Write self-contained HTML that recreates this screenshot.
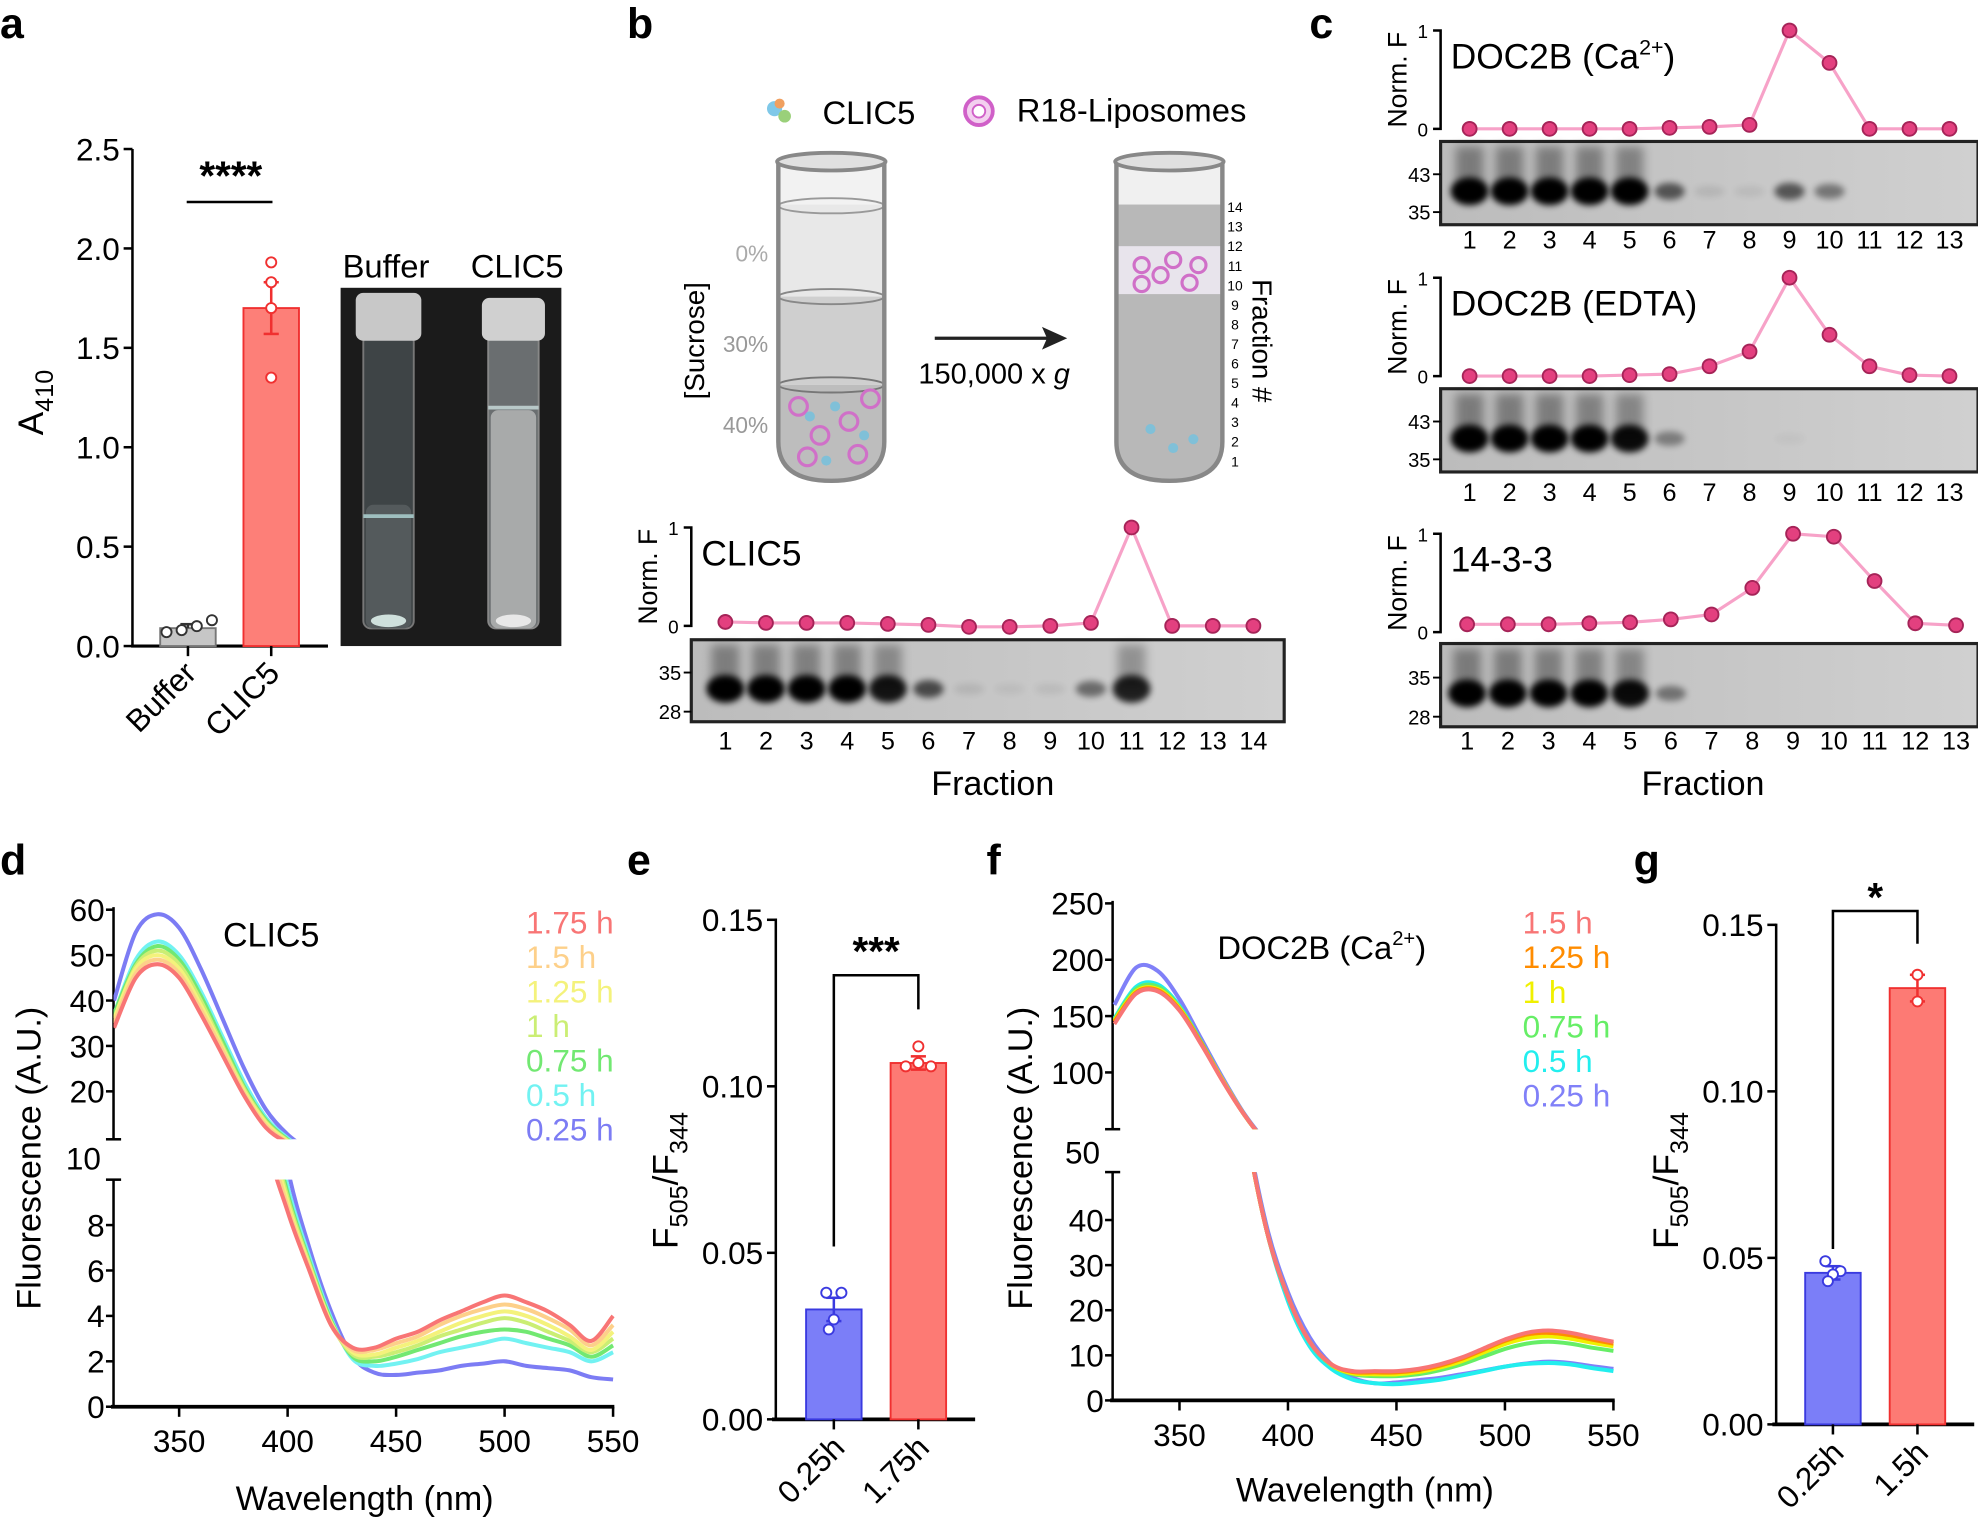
<!DOCTYPE html>
<html><head><meta charset="utf-8">
<style>
html,body{margin:0;padding:0;background:#fff;}
svg{display:block;font-family:"Liberation Sans",Arial,sans-serif;}
</style></head>
<body>
<svg id="fig" xmlns="http://www.w3.org/2000/svg" width="1978" height="1528" viewBox="0 0 1568 1211">
<defs>
<filter id="blur" x="-50%" y="-50%" width="200%" height="200%"><feGaussianBlur stdDeviation="2.5"/></filter>
<filter id="blur2" x="-50%" y="-50%" width="200%" height="200%"><feGaussianBlur stdDeviation="4"/></filter>
<clipPath id="dTop"><rect x="90" y="712" width="400" height="191"/></clipPath>
<clipPath id="dBot"><rect x="90" y="935" width="400" height="182"/></clipPath>
<clipPath id="fTop"><rect x="882" y="705" width="400" height="190"/></clipPath>
<clipPath id="fBot"><rect x="882" y="929" width="400" height="183"/></clipPath>
<clipPath id="tubeL"><path d="M617,128 L617,350 Q617,381 659,381 Q701,381 701,350 L701,128 Z"/></clipPath>
<clipPath id="tubeR"><path d="M885,128 L885,350 Q885,381 927,381 Q969,381 969,350 L969,128 Z"/></clipPath>
<linearGradient id="gelg" x1="0" y1="0" x2="1" y2="0"><stop offset="0" stop-color="#bcbcbc"/><stop offset="1" stop-color="#d0d0d0"/></linearGradient>
</defs>

<!-- panel letters -->
<g font-weight="bold" font-size="34">
<text x="0" y="30">a</text><text x="497" y="30">b</text><text x="1038" y="30">c</text>
<text x="0" y="693">d</text><text x="497" y="693">e</text><text x="782" y="693">f</text><text x="1295" y="693">g</text>
</g>

<g id="panelA"></g>
<g id="panelB"></g>
<g id="panelC"></g>
<g id="panelD"></g>
<g id="panelE"></g>
<g id="panelF"></g>
<g id="panelG"></g>
</svg>

<script>
// ---------- DATA ----------
const aCategories = ["Buffer","CLIC5"];
const aMeans = [0.09, 1.70];
const aErrors = [0.02, 0.13];
const aPointsBuffer = [0.07, 0.08, 0.10, 0.13];
const aPointsClic5 = [1.93, 1.83, 1.70, 1.35];
const aTicks = [0.0,0.5,1.0,1.5,2.0,2.5];

const bFractions = [1,2,3,4,5,6,7,8,9,10,11,12,13,14];
const bNormF = [0.04,0.03,0.03,0.03,0.02,0.01,-0.01,-0.01,0.0,0.03,1.0,0.0,0.0,0.0];
const bGelBands = [0.95,0.95,0.95,0.95,0.85,0.6,0.08,0.05,0.06,0.45,0.8,0,0,0];

const cFractions = [1,2,3,4,5,6,7,8,9,10,11,12,13];
const cNormCa = [0,0,0,0,0,0.01,0.02,0.04,1.0,0.67,0,0,0];
const cNormEdta = [0,0,0,0,0.01,0.02,0.1,0.25,1.0,0.42,0.1,0.01,0];
const cNorm1433 = [0.08,0.08,0.08,0.09,0.1,0.13,0.18,0.45,1.0,0.97,0.52,0.09,0.07];
const cGelCa = [1,1,1,1,0.95,0.55,0.08,0.06,0.55,0.4,0,0,0];
const cGelEdta = [1,1,1,0.95,0.9,0.35,0,0,0.03,0,0,0,0];
const cGel1433 = [1,1,0.98,0.95,0.9,0.4,0,0,0,0,0,0,0];

const wavelengths = [320,330,340,350,360,370,380,390,400,410,420,430,440,450,460,470,480,490,500,510,520,530,540,550];
const dLabels = ["1.75 h","1.5 h","1.25 h","1 h","0.75 h","0.5 h","0.25 h"];
const d175 = [34,45,48,45,37,28,19,12,8.6,6,3.6,2.6,2.6,3.0,3.3,3.8,4.2,4.6,4.9,4.6,4.2,3.6,2.9,4.0];
const d150 = [35,46,49,46,38,29,19.5,12.5,8.8,6.1,3.6,2.5,2.5,2.8,3.1,3.6,4.0,4.3,4.5,4.3,3.9,3.4,2.7,3.6];
const d125 = [36,47,50,47,39,29.5,20,13,9,6.2,3.7,2.4,2.3,2.6,2.9,3.3,3.7,4.0,4.2,4.0,3.6,3.1,2.5,3.3];
const d100 = [36,47.5,51,48,40,30,20.5,13.3,9.2,6.3,3.7,2.3,2.2,2.4,2.7,3.1,3.4,3.7,3.9,3.7,3.3,2.9,2.4,3.0];
const d075 = [37,48,52,49,41,31,21,13.7,9.4,6.4,3.8,2.2,2.0,2.2,2.5,2.8,3.1,3.3,3.4,3.3,3.0,2.7,2.2,2.7];
const d050 = [37,49,53,50,42,32,22,14.2,9.7,6.6,3.9,2.1,1.8,1.9,2.1,2.4,2.6,2.8,3.0,2.8,2.6,2.4,2.0,2.4];
const d025 = [40,55,59,56,47,36,25,16,10.5,7,4.2,2.2,1.5,1.4,1.5,1.6,1.8,1.9,2.0,1.8,1.7,1.6,1.3,1.2];
const dSeries = [d175,d150,d125,d100,d075,d050,d025];
const dColors = ["#f87575","#fdd08a","#f4f27c","#cbee74","#72e872","#72f2f2","#7c7cf4"];
const dTopTicks = [20,30,40,50,60];
const dBotTicks = [0,2,4,6,8];
const xTicks = [350,400,450,500,550];

const eCategories = ["0.25h","1.75h"];
const eMeans = [0.033, 0.107];
const eErrors = [0.0035, 0.002];
const ePoints025 = [0.038,0.038,0.030,0.027];
const ePoints175 = [0.112,0.106,0.106,0.107];
const ratioTicks = [0.00,0.05,0.10,0.15];

const fLabels = ["1.5 h","1.25 h","1 h","0.75 h","0.5 h","0.25 h"];
const f150 = [143,170,172,155,125,92,62,38,23,13,8,6.5,6.5,6.5,7,8,9.5,11.5,13.5,15,15.5,15,14,13];
const f125 = [145,171,173,156,126,92,62,38,23,13,8,6.3,6.2,6.2,6.7,7.7,9.2,11.2,13.2,14.6,15,14.5,13.5,12.6];
const f100 = [146,172,174,157,126,93,62,38,23,13,7.9,6,5.8,5.8,6.3,7.3,8.7,10.6,12.5,13.8,14.2,13.7,12.8,12];
const f075 = [147,174,176,158,127,93,62,38,23,13,7.8,5.8,5.4,5.4,5.8,6.7,8,9.7,11.4,12.6,13,12.6,11.7,11];
const f050 = [148,176,178,159,127,93,62,38,22,12,7,4.6,3.8,3.6,4,4.6,5.5,6.5,7.5,8.1,8.3,8,7.2,6.5];
const f025 = [160,193,190,165,130,95,63,39,24,14,8,5,3.8,4,4.5,5,5.8,6.6,7.5,8.2,8.6,8.3,7.6,7];
const fSeries = [f150,f125,f100,f075,f050,f025];
const fColors = ["#f87575","#ff8c00","#f0f000","#66ee66","#22eeee","#8080f8"];
const fTopTicks = [100,150,200,250];
const fBotTicks = [0,10,20,30,40];

const gCategories = ["0.25h","1.5h"];
const gMeans = [0.0455, 0.131];
const gErrors = [0.002, 0.004];
const gPoints025 = [0.049,0.046,0.045,0.043];
const gPoints150 = [0.135,0.127];

// ---------- HELPERS ----------
const NS = "http://www.w3.org/2000/svg";
function el(tag, attrs, parent){
  const e = document.createElementNS(NS, tag);
  for (const k in attrs) e.setAttribute(k, attrs[k]);
  if (parent) parent.appendChild(e);
  return e;
}
function txt(parent, x, y, s, attrs){
  const t = el('text', Object.assign({x:x, y:y}, attrs||{}), parent);
  t.textContent = s;
  return t;
}
function lin(d0,d1,r0,r1){ return v => r0 + (v-d0)*(r1-r0)/(d1-d0); }
function smoothPath(pts){
  let d = "M" + pts[0][0].toFixed(1) + "," + pts[0][1].toFixed(1);
  for (let i=0;i<pts.length-1;i++){
    const p0 = pts[i-1]||pts[i], p1=pts[i], p2=pts[i+1], p3=pts[i+2]||p2;
    const c1x = p1[0]+(p2[0]-p0[0])/6, c1y=p1[1]+(p2[1]-p0[1])/6;
    const c2x = p2[0]-(p3[0]-p1[0])/6, c2y=p2[1]-(p3[1]-p1[1])/6;
    d += " C"+c1x.toFixed(1)+","+c1y.toFixed(1)+" "+c2x.toFixed(1)+","+c2y.toFixed(1)+" "+p2[0].toFixed(1)+","+p2[1].toFixed(1);
  }
  return d;
}

// ---------- PANEL A ----------
(function(){
  const g = document.getElementById('panelA');
  const y = lin(0,2.5,512,118);
  const yAxis = el('line',{x1:105,y1:118,x2:105,y2:513,stroke:'#000','stroke-width':2},g);
  
  
  aTicks.forEach(t=>{
    el('line',{x1:98,y1:y(t),x2:105,y2:y(t),stroke:'#000','stroke-width':2},g);
    const lb = txt(g,95,y(t)+9,t.toFixed(1),{'font-size':25,'text-anchor':'end'});
    
    
  });
  const xAxis = el('line',{x1:104,y1:512,x2:260,y2:512,stroke:'#000','stroke-width':2.5},g);
  
  
  const yt = txt(g,0,0,'A',{'font-size':28,transform:'translate(34,345) rotate(-90)'});
  
  
  const sub = el('tspan',{'font-size':20,dy:8},yt); sub.textContent='410';
  const xs = [149,215], fills=['#c6c6c6','#fd7f78'], strokes=['#777','#f03030'];
  aMeans.forEach((m,i)=>{
    const bar = el('rect',{x:xs[i]-22,y:y(m),width:44,height:512-y(m),fill:fills[i],stroke:strokes[i],'stroke-width':1.5},g);
    
    
    el('line',{x1:xs[i],y1:y(m),x2:xs[i],y2:y(m+aErrors[i]),stroke:i?'#f03030':'#333','stroke-width':2},g);
    el('line',{x1:xs[i]-6,y1:y(m+aErrors[i]),x2:xs[i]+6,y2:y(m+aErrors[i]),stroke:i?'#f03030':'#333','stroke-width':2},g);
    if(i){ el('line',{x1:xs[i],y1:y(m),x2:xs[i],y2:y(m-aErrors[i]),stroke:'#f03030','stroke-width':2},g);
      el('line',{x1:xs[i]-6,y1:y(m-aErrors[i]),x2:xs[i]+6,y2:y(m-aErrors[i]),stroke:'#f03030','stroke-width':2},g);}
    el('line',{x1:xs[i],y1:512,x2:xs[i],y2:520,stroke:'#000','stroke-width':2},g);
    const xl = txt(g,0,0,aCategories[i],{'font-size':25,'text-anchor':'end',transform:'translate('+(xs[i]+8)+',535) rotate(-45)'});
    
    
  });
  const offB=[-17,-5,7,19];
  aPointsBuffer.forEach((v,i)=>{
    const c = el('circle',{cx:xs[0]+offB[i],cy:y(v),r:4,fill:'#fff',stroke:'#333','stroke-width':1.5},g);
    
    
  });
  aPointsClic5.forEach((v,i)=>{
    const c = el('circle',{cx:xs[1],cy:y(v),r:4,fill:'#fff',stroke:'#f03030','stroke-width':1.5},g);
    
    
  });
  const sig = el('line',{x1:148,y1:160,x2:216,y2:160,stroke:'#000','stroke-width':2},g);
  
  
  const st = txt(g,183,150,'****',{'font-size':32,'font-weight':'bold','text-anchor':'middle'});
  
  
  // photo
  const ph = el('g',{},g);
  
  
  el('rect',{x:270,y:228,width:175,height:284,fill:'#1b1b1b'},ph);
  el('rect',{x:288,y:265,width:40,height:233,rx:6,fill:'#3e4446',stroke:'#777','stroke-width':1.5},ph);
  el('rect',{x:290,y:400,width:36,height:98,rx:6,fill:'#545a5c'},ph);
  el('rect',{x:282,y:232,width:52,height:38,rx:6,fill:'#c8c8c8'},ph);
  el('line',{x1:288,y1:409,x2:328,y2:409,stroke:'#9fbfbf','stroke-width':3},ph);
  el('rect',{x:387,y:265,width:40,height:233,rx:6,fill:'#6a6e70',stroke:'#888','stroke-width':1.5},ph);
  el('rect',{x:389,y:325,width:36,height:173,rx:6,fill:'#a8aaaa'},ph);
  el('rect',{x:382,y:236,width:50,height:34,rx:6,fill:'#d0d0d0'},ph);
  el('line',{x1:387,y1:323,x2:427,y2:323,stroke:'#b8c8c8','stroke-width':3},ph);
  el('ellipse',{cx:308,cy:492,rx:14,ry:5,fill:'#cfe0dc'},ph);
  el('ellipse',{cx:407,cy:492,rx:14,ry:5,fill:'#e8e8e8'},ph);
  txt(g,306,220,'Buffer',{'font-size':26,'text-anchor':'middle'});
  txt(g,410,220,'CLIC5',{'font-size':26,'text-anchor':'middle'});
})();

// ---------- mini norm-F plot + gel ----------
function miniPlot(g, prefix, ax, y1, y0, xs0, dx, vals, fracs, title, gelY, gelH, gelX1, gelBands, mwLabels, mwYs, fracY){
  const y = lin(0,1,y0,y1);
  const axis = el('path',{d:'M'+(ax-6)+','+y1+' H'+ax+' V'+y0+' H'+(ax-6),fill:'none',stroke:'#000','stroke-width':2},g);
  
  
  txt(g,ax-10,y1+6,'1',{'font-size':15,'text-anchor':'end'});
  txt(g,ax-10,y0+6,'0',{'font-size':15,'text-anchor':'end'});
  const yt = txt(g,0,0,'Norm. F',{'font-size':21,'text-anchor':'middle',transform:'translate('+(ax-27)+','+((y0+y1)/2)+') rotate(-90)'});
  
  
  const tl = txt(g,ax+8,y1+30,'',{'font-size':28});
  
  
  if (title.indexOf('Ca')>=0){ tl.textContent='DOC2B (Ca'; const s=el('tspan',{'font-size':17,dy:-11},tl); s.textContent='2+'; const s2=el('tspan',{dy:11},tl); s2.textContent=')'; }
  else tl.textContent=title;
  const pts = vals.map((v,i)=>[xs0+i*dx, y(v)]);
  const ln = el('polyline',{points:pts.map(p=>p.join(',')).join(' '),fill:'none',stroke:'#f7a2c8','stroke-width':2.5},g);
  
  
  pts.forEach(p=>{
    const c = el('circle',{cx:p[0],cy:p[1],r:5.5,fill:'#e3407f',stroke:'#a52458','stroke-width':1.5},g);
    
    
  });
  // gel
  const gel = el('g',{},g);
  
  
  el('rect',{x:ax,y:gelY,width:gelX1-ax,height:gelH,fill:'url(#gelg)',stroke:'#222','stroke-width':2.5},gel);
  const by = gelY + gelH*0.6;
  gelBands.forEach((v,i)=>{
    if(v<=0) return;
    const cx = xs0+i*dx;
    if(v>0.7) el('rect',{x:cx-11,y:gelY+4,width:22,height:by-gelY-4,fill:'#000',opacity:v*0.35,filter:'url(#blur2)'},gel);
    const b = el('ellipse',{cx:cx,cy:by,rx:v>0.7?15:12,ry:v>0.7?11:4+v*5,fill:'#000',opacity:Math.min(1,v*1.05),filter:'url(#blur)'},gel);
    
    
  });
  mwLabels.forEach((m,i)=>{
    el('line',{x1:ax-6,y1:mwYs[i],x2:ax,y2:mwYs[i],stroke:'#000','stroke-width':1.5},g);
    txt(g,ax-8,mwYs[i]+6,m,{'font-size':16,'text-anchor':'end'});
  });
  fracs.forEach((f,i)=>{
    const t = txt(g,xs0+i*dx,fracY,String(f),{'font-size':20,'text-anchor':'middle'});
    
    
  });
}

// ---------- PANEL B ----------
(function(){
  const g = document.getElementById('panelB');
  // legend
  const lg = el('g',{},g);
  
  
  el('circle',{cx:614,cy:86,r:6,fill:'#7fc8e8'},lg); el('circle',{cx:622,cy:92,r:5,fill:'#9ad07a'},lg); el('circle',{cx:618,cy:82,r:4,fill:'#f0a060'},lg);
  txt(lg,652,98,'CLIC5',{'font-size':26});
  el('circle',{cx:776,cy:88,r:11,fill:'#f3d0ef',stroke:'#d060c8','stroke-width':3},lg);
  el('circle',{cx:776,cy:88,r:5,fill:'#fff',stroke:'#d060c8','stroke-width':1.5},lg);
  txt(lg,806,96,'R18-Liposomes',{'font-size':26});
  // left tube
  const tl = el('g',{},g);
  
  
  const cl = el('g',{'clip-path':'url(#tubeL)'},tl);
  el('rect',{x:615,y:125,width:90,height:260,fill:'#f2f2f2'},cl);
  el('rect',{x:615,y:162,width:90,height:74,fill:'#e8e8e8'},cl);
  el('rect',{x:615,y:235,width:90,height:70,fill:'#cfcfcf'},cl);
  el('rect',{x:615,y:305,width:90,height:80,fill:'#bdbdbd'},cl);
  el('ellipse',{cx:659,cy:163,rx:42,ry:6,fill:'none',stroke:'#999','stroke-width':1.5},cl);
  el('ellipse',{cx:659,cy:235,rx:42,ry:6,fill:'none',stroke:'#888','stroke-width':1.5},cl);
  el('ellipse',{cx:659,cy:305,rx:42,ry:6,fill:'none',stroke:'#777','stroke-width':1.5},cl);
  [[633,322],[650,345],[673,334],[680,360],[640,362],[690,316]].forEach(p=>el('circle',{cx:p[0],cy:p[1],r:7,fill:'none',stroke:'#d070c8','stroke-width':2.5},cl));
  [[642,330],[662,322],[685,345],[655,365]].forEach(p=>el('circle',{cx:p[0],cy:p[1],r:4,fill:'#80c0d8'},cl));
  el('path',{d:"M617,128 L617,350 Q617,381 659,381 Q701,381 701,350 L701,128",fill:'none',stroke:'#888','stroke-width':3.5},tl);
  el('ellipse',{cx:659,cy:128,rx:43,ry:7,fill:'#e0e0e0',stroke:'#888','stroke-width':3},tl);
  txt(g,596,207,'0%',{'font-size':18,fill:'#aaa','text-anchor':'middle'});
  txt(g,591,279,'30%',{'font-size':18,fill:'#999','text-anchor':'middle'});
  txt(g,591,343,'40%',{'font-size':18,fill:'#999','text-anchor':'middle'});
  txt(g,0,0,'[Sucrose]',{'font-size':22,'text-anchor':'middle',transform:'translate(558,270) rotate(-90)'});
  // arrow
  const ar = el('g',{},g);
  
  
  el('line',{x1:741,y1:268,x2:830,y2:268,stroke:'#222','stroke-width':2.5},ar);
  el('path',{d:'M846,268 L826,259 L830,268 L826,277 Z',fill:'#222'},ar);
  const sp = txt(g,728,304,'150,000 x ',{'font-size':23});
  const gi = el('tspan',{'font-style':'italic'},sp); gi.textContent='g';
  // right tube
  const tr = el('g',{},g);
  
  
  const cr = el('g',{'clip-path':'url(#tubeR)'},tr);
  el('rect',{x:883,y:125,width:90,height:260,fill:'#f0f0f0'},cr);
  el('rect',{x:883,y:162,width:90,height:225,fill:'#b8b8b8'},cr);
  el('rect',{x:883,y:195,width:90,height:38,fill:'#e8e4ec'},cr);
  [[905,210],[930,206],[950,210],[943,224],[905,225],[920,218]].forEach(p=>el('circle',{cx:p[0],cy:p[1],r:6,fill:'none',stroke:'#d070c8','stroke-width':2.5},cr));
  [[912,340],[946,348],[930,355]].forEach(p=>el('circle',{cx:p[0],cy:p[1],r:4,fill:'#80c0d8'},cr));
  el('path',{d:"M885,128 L885,350 Q885,381 927,381 Q969,381 969,350 L969,128",fill:'none',stroke:'#888','stroke-width':3.5},tr);
  el('ellipse',{cx:927,cy:128,rx:43,ry:7,fill:'#e0e0e0',stroke:'#888','stroke-width':3},tr);
  for(let i=14;i>=1;i--){ txt(g,979,168+(14-i)*15.5,String(i),{'font-size':11,'text-anchor':'middle'}); }
  txt(g,0,0,'Fraction #',{'font-size':22,'text-anchor':'middle',transform:'translate(993,270) rotate(90)'});
  miniPlot(g,'b',548,418,496,575,32.2,bNormF,bFractions,'CLIC5',507,65,1018,bGelBands,['35','28'],[533,564],594);
  const xt = txt(g,787,630,'Fraction',{'font-size':27,'text-anchor':'middle'});
  
  
})();

// ---------- PANEL C ----------
(function(){
  const g = document.getElementById('panelC');
  miniPlot(g,'c-ca',1142,24,102,1165,31.7,cNormCa,cFractions,'DOC2B (Ca2+)',112,66,1568,cGelCa,['43','35'],[138,168],197);
  miniPlot(g,'c-edta',1142,220,298,1165,31.7,cNormEdta,cFractions,'DOC2B (EDTA)',308,66,1568,cGelEdta,['43','35'],[334,364],397);
  miniPlot(g,'c-1433',1142,423,501,1163,32.3,cNorm1433,cFractions,'14-3-3',510,66,1568,cGel1433,['35','28'],[537,568],594);
  const xt = txt(g,1350,630,'Fraction',{'font-size':27,'text-anchor':'middle'});
  
  
})();

// ---------- spectra panels ----------
function spectra(g, prefix, ax, xMap, yTop, yBot, topClip, botClip, series, colors, labels, topTicks, botTicks, topBreak, botBreak, bottomY, legendX, legendY0, legendDy, breakLabel, breakLabelY, breakLabelX){
  const topAxis = el('line',{x1:ax,y1:yTop(topTicks[topTicks.length-1])-2,x2:ax,y2:topBreak,stroke:'#000','stroke-width':2},g);
  
  
  el('line',{x1:ax-6,y1:topBreak,x2:ax+6,y2:topBreak,stroke:'#000','stroke-width':2},g);
  const botAxis = el('line',{x1:ax,y1:botBreak,x2:ax,y2:bottomY,stroke:'#000','stroke-width':2},g);
  
  
  el('line',{x1:ax-6,y1:botBreak,x2:ax+6,y2:botBreak,stroke:'#000','stroke-width':2},g);
  topTicks.forEach(t=>{ el('line',{x1:ax-6,y1:yTop(t),x2:ax,y2:yTop(t),stroke:'#000','stroke-width':2},g);
    const l=txt(g,ax-7,yTop(t)+9,String(t),{'font-size':25,'text-anchor':'end'});
    
     });
  botTicks.forEach(t=>{ el('line',{x1:ax-6,y1:yBot(t),x2:ax,y2:yBot(t),stroke:'#000','stroke-width':2},g);
    const l=txt(g,ax-7,yBot(t)+9,String(t),{'font-size':25,'text-anchor':'end'});
    
     });
  txt(g,breakLabelX,breakLabelY,breakLabel,{'font-size':25,'text-anchor':'end'});
  const xa = el('line',{x1:ax-2,y1:bottomY,x2:xMap(550)+1,y2:bottomY,stroke:'#000','stroke-width':3},g);
  
  
  xTicks.forEach(t=>{ el('line',{x1:xMap(t),y1:bottomY,x2:xMap(t),y2:bottomY+8,stroke:'#000','stroke-width':2},g);
    const l=txt(g,xMap(t),bottomY+36,String(t),{'font-size':25,'text-anchor':'middle'});
    
     });
  // draw last series first (blue at back? blue on top in reference tail for d is lowest) -> draw in reverse order so first in legend drawn last
  for(let s=series.length-1;s>=0;s--){
    const vals = series[s];
    const pt = vals.map((v,i)=>[xMap(wavelengths[i]), yTop(v)]);
    const pb = vals.map((v,i)=>[xMap(wavelengths[i]), yBot(v)]);
    const a = el('path',{d:smoothPath(pt),fill:'none',stroke:colors[s],'stroke-width':3.2,'clip-path':'url(#'+topClip+')'},g);
    
    
    const b = el('path',{d:smoothPath(pb),fill:'none',stroke:colors[s],'stroke-width':3.2,'clip-path':'url(#'+botClip+')'},g);
    
    
  }
  labels.forEach((l,i)=>{
    const t = txt(g,legendX,legendY0+i*legendDy,l,{'font-size':25,fill:colors[i]});
    
    
  });
}

// ---------- PANEL D ----------
(function(){
  const g = document.getElementById('panelD');
  const xMap = lin(350,550,142,486);
  const yTop = lin(20,60,865,721);
  const yBot = lin(0,10,1115,935);
  spectra(g,'d',90,xMap,yTop,yBot,'dTop','dBot',dSeries,dColors,dLabels,dTopTicks,dBotTicks,903,935,1115,417,740,27.3,'10',927,80);
  const t = txt(g,215,750,'CLIC5',{'font-size':27,'text-anchor':'middle'});
  
  
  const yt = txt(g,0,0,'Fluorescence (A.U.)',{'font-size':27,'text-anchor':'middle',transform:'translate(32,918) rotate(-90)'});
  
  
  const xt = txt(g,289,1197,'Wavelength (nm)',{'font-size':27,'text-anchor':'middle'});
  
  
})();

// ---------- PANEL F ----------
(function(){
  const g = document.getElementById('panelF');
  const xMap = lin(350,550,935,1279);
  const yTop = lin(100,250,850,716);
  const yBot = lin(0,40,1110,967);
  spectra(g,'f',882,xMap,yTop,yBot,'fTop','fBot',fSeries,fColors,fLabels,fTopTicks,fBotTicks,895,929,1110,1207,740,27.4,'50',922,872);
  const t = txt(g,965,760,'DOC2B (Ca',{'font-size':26});
  
  
  const s = el('tspan',{'font-size':16,dy:-11},t); s.textContent='2+';
  const s2 = el('tspan',{dy:11},t); s2.textContent=')';
  const yt = txt(g,0,0,'Fluorescence (A.U.)',{'font-size':27,'text-anchor':'middle',transform:'translate(818,918) rotate(-90)'});
  
  
  const xt = txt(g,1082,1190,'Wavelength (nm)',{'font-size':27,'text-anchor':'middle'});
  
  
})();

// ---------- ratio bar panels ----------
function ratioPanel(g, prefix, ax, y0, y15, xEnd, xs, cats, means, errs, pts0, pts1, bracketY, bracketLeftY, bracketRightY, stars, starsY, titleX){
  const y = lin(0,0.15,y0,y15);
  const ya = el('line',{x1:ax,y1:y15-1,x2:ax,y2:y0,stroke:'#000','stroke-width':2},g);
  
  
  ratioTicks.forEach(t=>{ el('line',{x1:ax-7,y1:y(t),x2:ax,y2:y(t),stroke:'#000','stroke-width':2},g);
    const l=txt(g,ax-10,y(t)+9,t.toFixed(2),{'font-size':25,'text-anchor':'end'});
    
     });
  const xa = el('line',{x1:ax-3,y1:y0,x2:xEnd,y2:y0,stroke:'#000','stroke-width':3},g);
  
  
  const fills=['#7b7ef8','#fd7a74'], strokes=['#3a3ae0','#f03030'];
  means.forEach((m,i)=>{
    const b = el('rect',{x:xs[i]-22,y:y(m),width:44,height:y0-y(m),fill:fills[i],stroke:strokes[i],'stroke-width':1.5},g);
    
    
    el('line',{x1:xs[i],y1:y(m-errs[i]),x2:xs[i],y2:y(m+errs[i]),stroke:strokes[i],'stroke-width':2},g);
    el('line',{x1:xs[i]-6,y1:y(m-errs[i]),x2:xs[i]+6,y2:y(m-errs[i]),stroke:strokes[i],'stroke-width':2},g);
    el('line',{x1:xs[i]-6,y1:y(m+errs[i]),x2:xs[i]+6,y2:y(m+errs[i]),stroke:strokes[i],'stroke-width':2},g);
    el('line',{x1:xs[i],y1:y0,x2:xs[i],y2:y0+8,stroke:'#000','stroke-width':2},g);
    const xl = txt(g,0,0,cats[i],{'font-size':25,'text-anchor':'end',transform:'translate('+(xs[i]+10)+','+(y0+24)+') rotate(-45)'});
    
    
  });
  const off4=[-9,9,-9,9];
  pts0.forEach((v,i)=>{ const c=el('circle',{cx:xs[0]+(pts0.length>2?[-6,6,0,-4][i]:0),cy:y(v),r:4,fill:'#fff',stroke:'#3a3ae0','stroke-width':1.5},g);
    
     });
  pts1.forEach((v,i)=>{ const c=el('circle',{cx:xs[1]+(pts1.length>2?[0,-10,10,0][i]:0),cy:y(v),r:4,fill:'#fff',stroke:'#f03030','stroke-width':1.5},g);
    
     });
  const br = el('path',{d:'M'+xs[0]+','+bracketLeftY+' V'+bracketY+' H'+xs[1]+' V'+bracketRightY,fill:'none',stroke:'#000','stroke-width':2},g);
  
  
  const st = txt(g,(xs[0]+xs[1])/2,starsY,stars,{'font-size':32,'font-weight':'bold','text-anchor':'middle'});
  
  
  const yt = txt(g,0,0,'F',{'font-size':28,transform:'translate('+titleX+',990) rotate(-90)'});
  
  
  const s1=el('tspan',{'font-size':20,dy:8},yt); s1.textContent='505';
  const s2=el('tspan',{dy:-8},yt); s2.textContent='/F';
  const s3=el('tspan',{'font-size':20,dy:8},yt); s3.textContent='344';
}
ratioPanel(document.getElementById('panelE'),'e',615,1125,729,773,[661,728],eCategories,eMeans,eErrors,ePoints025,ePoints175,773,988,800,'***',765,537);
ratioPanel(document.getElementById('panelG'),'g',1408,1129,733,1565,[1453,1520],gCategories,gMeans,gErrors,gPoints025,gPoints150,722,990,748,'*',722,1330);
</script>
</body></html>
